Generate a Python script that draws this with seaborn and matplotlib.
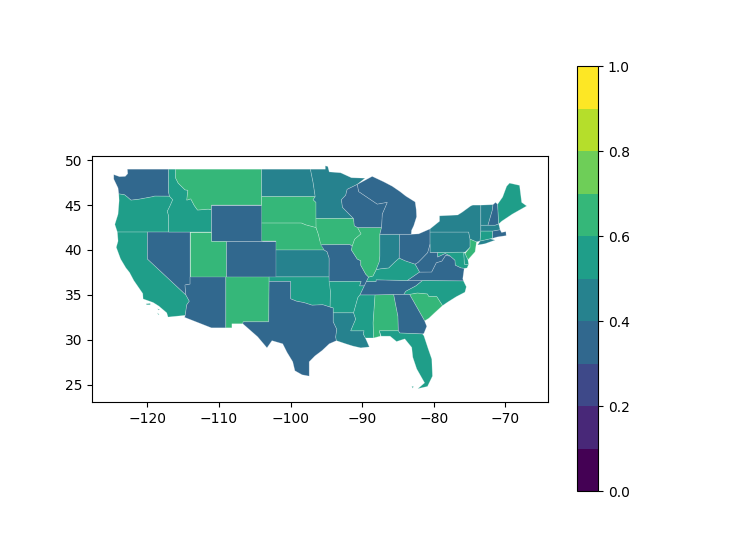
import matplotlib
matplotlib.use('Agg')
import matplotlib.pyplot as plt
import pandas as pd
import seaborn as sns

# State outlines, (lon, lat)
WA = [[(-124.7,48.4),(-123.9,48.17),(-123.1,48.2),(-122.75,48.5),(-122.8,49.0),(-117.03,49.0),(-117.04,46.42),(-116.92,45.99),(-118.98,46.0),(-119.3,45.93),(-121.2,45.65),(-122.3,45.55),(-122.8,45.9),(-123.2,46.15),(-124.0,46.25),(-124.1,46.9),(-124.7,47.9)]]
OR = [[(-124.0,46.25),(-123.2,46.15),(-122.8,45.9),(-122.3,45.55),(-121.2,45.65),(-119.3,45.93),(-118.98,46.0),(-116.92,45.99),(-116.46,45.6),(-116.85,44.9),(-117.22,44.3),(-117.03,43.8),(-117.03,42.0),(-124.2,42.0),(-124.55,42.85),(-124.1,44.0),(-123.95,45.5)]]
CA = [[(-124.2,42.0),(-120.0,42.0),(-120.0,39.0),(-114.63,35.0),(-114.14,34.3),(-114.5,33.9),(-114.72,32.72),(-117.12,32.53),(-117.3,33.0),(-118.4,33.75),(-119.2,34.15),(-120.6,34.55),(-120.65,35.15),(-121.9,36.6),(-122.5,37.5),(-123.0,38.0),(-123.75,39.0),(-124.35,40.3),(-124.1,41.0)],
      [(-120.2,34.0),(-119.6,34.05),(-119.6,33.9),(-120.1,33.9)], [(-118.6,33.45),(-118.3,33.4),(-118.4,33.3)], [(-118.6,33.0),(-118.35,32.8),(-118.5,32.8)]]
NV = [[(-120,42),(-114.04,42),(-114.04,36.2),(-114.75,36.1),(-114.63,35.0),(-120,39)]]
ID = [[(-117.03,49),(-116.05,49),(-116.05,48),(-115.7,47.45),(-114.75,46.7),(-114.35,46.65),(-114.5,45.55),(-113.95,45.7),(-113.45,44.95),(-113,44.45),(-111.5,44.55),(-111.05,44.48),(-111.05,42),(-117.03,42),(-117.03,43.8),(-117.22,44.3),(-116.85,44.9),(-116.46,45.6),(-116.92,45.99),(-117.04,46.42)]]
MT = [[(-116.05,49),(-104.05,49),(-104.05,45),(-111.05,45),(-111.05,44.48),(-111.5,44.55),(-113,44.45),(-113.45,44.95),(-113.95,45.7),(-114.5,45.55),(-114.35,46.65),(-114.75,46.7),(-115.7,47.45),(-116.05,48)]]
WY = [[(-111.05,45),(-104.05,45),(-104.05,41),(-111.05,41)]]
UT = [[(-114.04,42),(-111.05,42),(-111.05,41),(-109.05,41),(-109.05,37),(-114.04,37)]]
CO = [[(-109.05,41),(-102.05,41),(-102.05,37),(-109.05,37)]]
AZ = [[(-114.04,37),(-109.05,37),(-109.05,31.33),(-111.07,31.33),(-114.81,32.5),(-114.72,32.72),(-114.5,33.9),(-114.14,34.3),(-114.63,35),(-114.75,36.1),(-114.04,36.2)]]
NM = [[(-109.05,37),(-103,37),(-103.05,32),(-106.62,32),(-106.67,31.78),(-108.2,31.78),(-108.2,31.33),(-109.05,31.33)]]
ND = [[(-104.05,49),(-97.23,49),(-96.85,47.5),(-96.56,45.94),(-104.05,45.94)]]
SD = [[(-104.05,45.94),(-96.56,45.94),(-96.85,45.6),(-96.45,45.3),(-96.45,43.5),(-96.44,42.49),(-97.9,42.8),(-98.5,43),(-104.05,43)]]
NE = [[(-104.05,43),(-98.5,43),(-97.9,42.8),(-96.44,42.49),(-96.1,41.7),(-95.9,41),(-95.31,40),(-102.05,40),(-102.05,41),(-104.05,41)]]
KS = [[(-102.05,40),(-95.31,40),(-94.9,39.8),(-94.61,39.1),(-94.62,37),(-102.05,37)]]
OK = [[(-103,37),(-94.62,37),(-94.43,35.4),(-94.48,33.64),(-95.5,33.9),(-97,33.85),(-98.1,34.13),(-99.2,34.3),(-100,34.56),(-100,36.5),(-103,36.5)]]
TX = [[(-106.62,32),(-103.05,32),(-103,36.5),(-100,36.5),(-100,34.56),(-99.2,34.3),(-98.1,34.13),(-97,33.85),(-95.5,33.9),(-94.48,33.64),(-94.04,33.55),(-94.04,31.99),(-93.55,31.18),(-93.7,30.3),(-93.6,29.9),(-94.6,29.55),(-95.6,28.8),(-96.6,28.2),(-97.4,27.55),(-97.4,25.95),(-98.4,26.1),(-99.4,26.55),(-99.7,27.55),(-100.5,28.6),(-101.1,29.55),(-102.6,29.9),(-103.3,29.1),(-104.6,30.33),(-106.67,31.78)]]
MN = [[(-97.23,49),(-95.15,49),(-95.15,49.38),(-94.8,49.3),(-94.6,48.7),(-93,48.6),(-91.5,48.05),(-89.6,48),(-90.7,47.3),(-92.1,46.75),(-92.3,46.1),(-92.9,45.6),(-92.75,44.75),(-91.2,43.5),(-96.45,43.5),(-96.45,45.3),(-96.85,45.6),(-96.56,45.94),(-96.85,47.5)]]
IA = [[(-96.45,43.5),(-91.2,43.5),(-91.1,42.7),(-90.64,42.5),(-90.15,41.8),(-91.05,41.2),(-91.4,40.4),(-91.7,40.6),(-95.77,40.58),(-95.9,41),(-96.1,41.7),(-96.44,42.49)]]
MO = [[(-95.77,40.58),(-91.7,40.6),(-91.4,40.4),(-91.5,40),(-90.7,39),(-90.2,38.8),(-90.2,38.3),(-89.5,37.3),(-89.1,36.98),(-89.4,36.5),(-89.7,36),(-90.37,36),(-90.15,36.5),(-94.62,36.5),(-94.62,37),(-94.61,39.1),(-94.9,39.8),(-95.31,40)]]
AR = [[(-94.62,36.5),(-90.15,36.5),(-90.37,36),(-89.7,36),(-90.3,35),(-90.6,34.7),(-91.2,33),(-94.04,33),(-94.04,33.55),(-94.48,33.64),(-94.43,35.4)]]
LA = [[(-94.04,33),(-91.2,33),(-90.9,32.3),(-91.6,31),(-89.73,31),(-89.85,30.65),(-89.55,30.2),(-89,29.2),(-90.2,29.1),(-91.3,29.3),(-92.3,29.55),(-93.6,29.9),(-93.7,30.3),(-93.55,31.18),(-94.04,31.99)]]
MS = [[(-90.3,35),(-88.2,35),(-88.47,31.9),(-88.4,30.2),(-89.55,30.2),(-89.85,30.65),(-89.73,31),(-91.6,31),(-90.9,32.3),(-91.2,33),(-90.6,34.7)]]
AL = [[(-88.2,35),(-85.6,35.05),(-85,32.6),(-84.95,31),(-87.6,31),(-87.45,30.4),(-88.4,30.2),(-88.47,31.9)]]
TN = [[(-90.3,35),(-89.7,36),(-89.4,36.5),(-88.05,36.5),(-88.07,36.68),(-83.68,36.6),(-81.58,36.59),(-82.5,36),(-83.9,35.4),(-84.2,35.05),(-85.6,35.05),(-88.2,35)]]
KY = [[(-89.4,36.5),(-89.1,36.98),(-88.5,37.1),(-88.05,37.8),(-87.5,37.9),(-86.3,38),(-85.4,38.7),(-84.82,39.1),(-84,38.8),(-82.6,38.42),(-81.97,37.54),(-83.68,36.6),(-88.07,36.68),(-88.05,36.5)]]
IL = [[(-90.64,42.5),(-87.3,42.5),(-87.53,41.75),(-87.53,39.35),(-87.6,38.7),(-88.05,37.8),(-88.5,37.1),(-89.1,36.98),(-89.5,37.3),(-90.2,38.3),(-90.2,38.8),(-90.7,39),(-91.5,40),(-91.4,40.4),(-91.05,41.2),(-90.15,41.8)]]
IN = [[(-87.53,41.75),(-84.8,41.75),(-84.82,39.1),(-85.4,38.7),(-86.3,38),(-87.5,37.9),(-88.05,37.8),(-87.6,38.7),(-87.53,39.35)]]
OH = [[(-84.8,41.75),(-83.15,41.75),(-82.1,41.8),(-80.52,42.35),(-80.52,40.64),(-80.85,39.7),(-81.7,39),(-82.2,38.6),(-82.6,38.42),(-84,38.8),(-84.82,39.1)]]
MI = [[(-90.7,47.3),(-89.3,47.9),(-88.6,48.2),(-87,47.6),(-85.8,47.1),(-84.7,46.5),(-83.9,46),(-82.6,45.35),(-82.45,44.5),(-82.4,43.7),(-82.8,42.7),(-83.1,42.2),(-83.15,41.75),(-84.8,41.75),(-87.53,41.75),(-87.3,42.5),(-87.2,44),(-86.5,45.3),(-87.9,45.1),(-90.5,46.5)]]
WI = [[(-90.7,47.3),(-90.5,46.5),(-87.9,45.1),(-86.5,45.3),(-87.2,44),(-87.3,42.5),(-90.64,42.5),(-91.1,42.7),(-91.2,43.5),(-92.75,44.75),(-92.9,45.6),(-92.3,46.1),(-92.1,46.75)]]
PA = [[(-80.52,42),(-75.13,42),(-74.93,41.2),(-74.93,40.3),(-75.63,39.75),(-80.52,39.72)]]
NY = [[(-80.52,42.35),(-79.2,43.2),(-79.2,43.8),(-76.65,43.9),(-76.05,44.2),(-74.85,44.9),(-74.55,45),(-73.43,45),(-73.43,42.1),(-73.53,41),(-74.03,40.9),(-74.93,41.2),(-75.13,42),(-80.52,42)],
      [(-73.88,40.55),(-72.83,40.7),(-71.43,41.1),(-72.13,41.25),(-73.53,41)]]
NJ = [[(-74.93,41.2),(-74.03,40.9),(-74.23,39.8),(-75.23,38.9),(-75.63,39.6),(-74.93,40.3)]]
DE = [[(-75.83,39.75),(-75.63,39.6),(-75.23,38.9),(-75.13,38.4),(-75.73,38.4)]]
MD = [[(-79.48,39.72),(-75.83,39.75),(-75.73,38.4),(-75.13,38.4),(-75.35,38),(-75.75,37.95),(-76.2,38),(-77,38.3),(-77.05,38.85),(-77.72,39.32),(-78.4,39.6),(-79.48,39.2)]]
VA = [[(-83.68,36.6),(-81.58,36.59),(-75.85,36.55),(-75.95,36.8),(-75.75,37.95),(-76.2,38),(-77,38.3),(-77.05,38.85),(-77.72,39.32),(-78.35,39.4),(-78.87,38.77),(-79.65,38.58),(-80.3,37.55),(-81.97,37.54)]]
WV = [[(-82.6,38.42),(-82.2,38.6),(-81.7,39),(-80.85,39.7),(-80.52,40.64),(-80.52,39.72),(-79.48,39.72),(-79.48,39.2),(-78.4,39.6),(-77.72,39.32),(-78.35,39.4),(-78.87,38.77),(-79.65,38.58),(-80.3,37.55),(-81.97,37.54)]]
NC = [[(-84.2,35.05),(-83.9,35.4),(-82.5,36),(-81.58,36.59),(-75.85,36.55),(-75.45,35.9),(-75.65,35.3),(-76.85,34.8),(-78.05,34.2),(-78.78,33.8),(-79.58,34.8),(-80.7,34.82),(-80.9,35.1),(-82.3,35.2),(-83.38,35.05)]]
SC = [[(-83.38,35.05),(-82.3,35.2),(-80.9,35.1),(-80.7,34.82),(-79.58,34.8),(-78.78,33.8),(-79.88,33),(-80.68,32.4),(-81.28,32.1)]]
GA = [[(-85.6,35.05),(-84.2,35.05),(-83.38,35.05),(-81.28,32.1),(-80.98,31.5),(-81.38,30.7),(-81.58,30.65),(-84.75,30.75),(-84.95,31),(-85,32.6)]]
FL = [[(-87.6,31),(-84.95,31),(-84.75,30.75),(-81.58,30.65),(-81.38,30.45),(-80.78,29),(-80.28,27.85),(-80.18,25.95),(-80.88,24.8),(-82.23,24.55),(-81.28,25.2),(-82.38,26.75),(-82.93,28.05),(-83.08,29.15),(-84.05,30.1),(-85.2,29.8),(-86.1,30.4),(-87.35,30.4)],
      [(-83.08,24.8),(-82.83,24.8),(-82.93,24.6)]]
VT = [[(-73.43,45),(-71.73,45.05),(-71.83,44.4),(-72.43,42.75),(-73.43,42.75)]]
NH = [[(-71.73,45.05),(-71.38,45.3),(-71.08,45.1),(-70.93,42.9),(-71.43,42.75),(-72.43,42.75),(-71.83,44.4)]]
ME = [[(-71.08,45.1),(-70.38,45.9),(-69.82,47.1),(-69.42,47.45),(-68.02,47.2),(-67.72,45.3),(-67.02,44.9),(-69.02,44),(-70.52,43.2),(-70.93,42.9)]]
MA = [[(-73.43,42.1),(-73.43,42.75),(-72.43,42.75),(-71.43,42.75),(-70.93,42.9),(-70.73,42.25),(-71.78,42.1)]]
CT = [[(-73.43,42.1),(-71.78,42.1),(-71.78,41.3),(-72.13,41.25),(-73.53,41)]]
RI = [[(-71.78,42.1),(-70.73,42.25),(-70.53,41.95),(-69.93,42.05),(-69.88,41.6),(-71.13,41.45),(-71.78,41.3)]]

states = ['WA','OR','CA','NV','ID','MT','WY','UT','CO','AZ','NM','ND','SD','NE','KS','OK','TX','MN','IA','MO','AR','LA','MS','AL','TN','KY','IL','IN','OH','MI','WI','PA','NY','NJ','DE','MD','VA','WV','NC','SC','GA','FL','VT','NH','ME','MA','CT','RI']
outlines = [WA,OR,CA,NV,ID,MT,WY,UT,CO,AZ,NM,ND,SD,NE,KS,OK,TX,MN,IA,MO,AR,LA,MS,AL,TN,KY,IL,IN,OH,MI,WI,PA,NY,NJ,DE,MD,VA,WV,NC,SC,GA,FL,VT,NH,ME,MA,CT,RI]
values = [0.35,0.55,0.55,0.35,0.55,0.65,0.35,0.65,0.35,0.35,0.65,0.45,0.65,0.65,0.45,0.55,0.35,0.45,0.65,0.35,0.55,0.45,0.55,0.65,0.35,0.55,0.65,0.45,0.35,0.35,0.35,0.45,0.45,0.65,0.55,0.55,0.35,0.35,0.55,0.65,0.35,0.55,0.45,0.35,0.55,0.45,0.55,0.35]

df = pd.DataFrame({'state': states, 'value': values, 'outline': outlines})

# 10 step viridis like the colorbar
cmap = sns.color_palette('viridis', as_cmap=True).resampled(10)
norm = plt.Normalize(0, 1)

fig, ax = plt.subplots(figsize=(7.36, 5.52))
for _, row in df.iterrows():
    for part in row['outline']:
        xs, ys = zip(*part)
        ax.fill(xs, ys, facecolor=cmap(norm(row['value'])), edgecolor=(1, 1, 1, 0.3), linewidth=0.5)

ax.set_xlim(-127.74, -64.0)
ax.set_ylim(23.07, 50.52)
ax.set_aspect(1.254)

sm = plt.cm.ScalarMappable(cmap=cmap, norm=norm)
fig.colorbar(sm, ax=ax)

plt.savefig('out.png', dpi=100)
